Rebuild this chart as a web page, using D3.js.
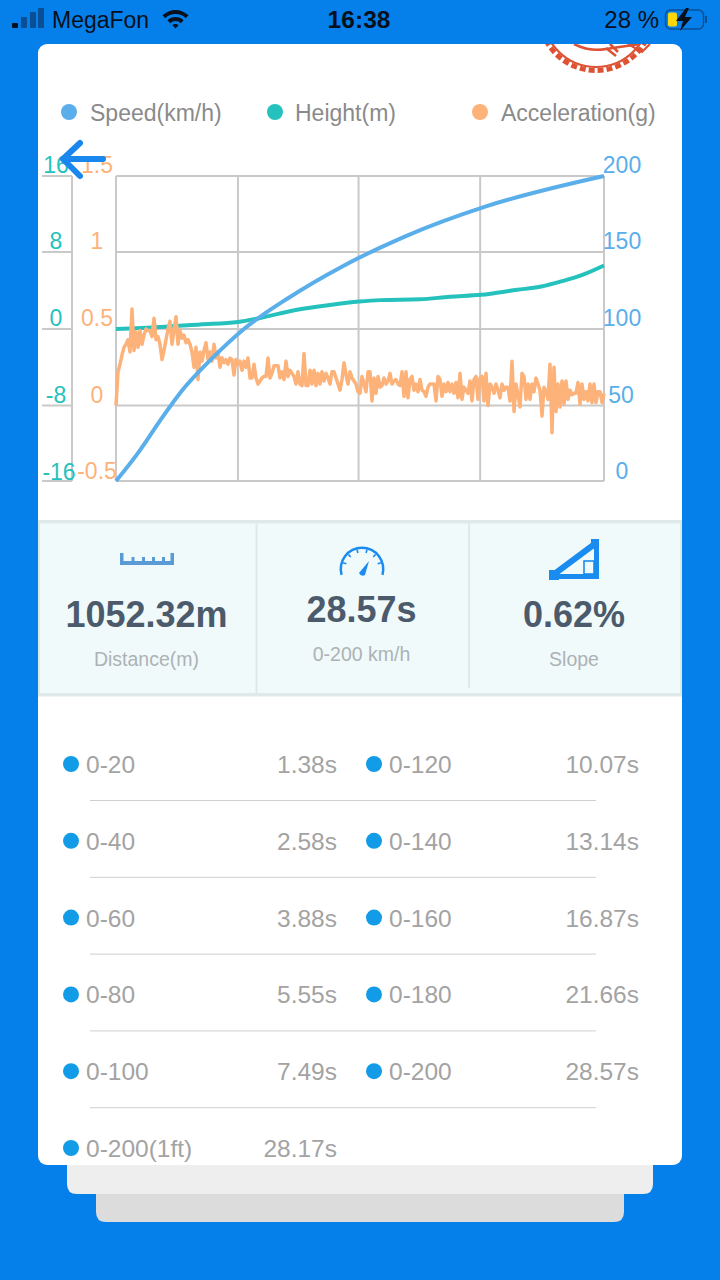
<!DOCTYPE html>
<html>
<head>
<meta charset="utf-8">
<title>Speed run</title>
<script src="https://d3js.org/d3.v7.min.js"></script>
<style>
html, body { margin: 0; padding: 0; background: #0580ea; }
svg { display: block; }
text { font-family: "Liberation Sans", Arial, sans-serif; }
</style>
</head>
<body>
<svg id="page" width="720" height="1280"></svg>
<script>
// values
var legendNames = ["Speed(km/h)", "Height(m)", "Acceleration(g)"];

var speedTimes = [0, 1.38, 2.58, 3.88, 5.55, 7.49, 10.07, 13.14, 16.87, 21.66, 28.57];
var speedValues = [0, 20, 40, 60, 80, 100, 120, 140, 160, 180, 200];

var heightTimes = [0, 2.58, 4.92, 7.14, 8.43, 10.6, 12.53, 14.23, 15.46, 17.8, 19.55, 21.37, 23.48, 24.82, 26.17, 27.34, 28.57];
var heightValues = [0, 0.2, 0.47, 0.73, 1.15, 2.0, 2.5, 2.85, 3.0, 3.08, 3.35, 3.55, 4.07, 4.39, 5.0, 5.65, 6.6];

// acceleration, one list per grid column, evenly spaced in time
var accA = [0, .22, .27, .33, .38, .40, .43, .35, .63, .36, .48, .38, .49, .40, .46, .50, .49, .49, .45, .57, .43, .45, .40, .30, .36, .43, .50, .55, .40, .49, .58, .40, .49, .44, .46, .41, .43, .40, .35, .25, .38, .17, .35, .29, .36, .41, .30, .35, .29, .40, .31, .35, .25, .31, .28, .30, .27, .31, .30, .20, .30, .27];
var accB = [.29, .23, .29, .25, .31, .18, .18, .27, .18, .14, .16, .18, .19, .19, .31, .18, .21, .26, .26, .26, .18, .22, .17, .29, .19, .23, .21, .19, .14, .22, .14, .13, .34, .13, .13, .23, .14, .23, .13, .21, .14, .22, .16, .21, .18, .14, .22, .22, .18, .14, .10, .17, .28, .20, .14, .22, .18, .16, .14, .09];
var accC = [.08, .19, .14, .09, .22, .22, .03, .18, .08, .19, .12, .13, .18, .14, .16, .21, .14, .16, .17, .14, .13, .22, .06, .22, .05, .17, .19, .10, .14, .09, .17, .10, .09, .06, .12, .14, .14, .14, .03, .19, .17, .06, .14, .09, .15, .09, .14, .08, .15, .05, .21, .04, .12, .10, .08, .16, .03, .17, .19, .04, .18];
var accD = [.19, .03, .21, 0, .14, .12, .08, .14, .10, .05, .14, .10, .12, .12, .03, .29, -.04, .14, .07, -.01, .21, .19, .04, .14, .04, .14, .09, .18, .14, .10, -.07, .12, .09, .04, .27, -.18, .25, -.04, .14, -.01, .16, .01, .16, .04, .10, .07, .08, .08, .15, .01, .14, .04, .09, .03, .14, .02, .14, .02, .09, .09, .02, .08];

var speedTicks = [0, 50, 100, 150, 200];
var heightTicks = [-16, -8, 0, 8, 16];
var accTicks = [-0.5, 0, 0.5, 1, 1.5];
var timeTicks = [0, 7.14, 14.2, 21.32, 28.57];

var statValues = ["1052.32m", "28.57s", "0.62%"];
var statNames = ["Distance(m)", "0-200 km/h", "Slope"];

var leftNames = ["0-20", "0-40", "0-60", "0-80", "0-100", "0-200(1ft)"];
var leftTimes = ["1.38s", "2.58s", "3.88s", "5.55s", "7.49s", "28.17s"];
var rightNames = ["0-120", "0-140", "0-160", "0-180", "0-200"];
var rightTimes = ["10.07s", "13.14s", "16.87s", "21.66s", "28.57s"];

var svg = d3.select("#page");
var blue = "#5aaeea", teal = "#25c2bd", orange = "#fdb27a", gridGrey = "#c9c9c9";

var drawFrame = function() {
    svg.append("rect").attr("width", 720).attr("height", 1280).attr("fill", "#0580ea");
    svg.append("path").attr("d", roundedBottom(96, 1180, 528, 42, 10)).attr("fill", "#dcdcdc");
    svg.append("path").attr("d", roundedBottom(67, 1150, 586, 44, 10)).attr("fill", "#eeeeee");
    svg.append("rect").attr("x", 38).attr("y", 44).attr("width", 644).attr("height", 1121)
      .attr("rx", 9).attr("fill", "#ffffff");
}

var roundedBottom = function(x, y, w, h, r) {
    return "M" + x + "," + y + "H" + (x + w) + "V" + (y + h - r)
      + "Q" + (x + w) + "," + (y + h) + " " + (x + w - r) + "," + (y + h)
      + "H" + (x + r) + "Q" + x + "," + (y + h) + " " + x + "," + (y + h - r) + "Z";
}

var drawStatusBar = function() {
    var bar = svg.append("g");
    [[12, 23, 6, 5, "#07101c"], [21, 17, 6, 11, "#0a4f96"], [30, 12, 6, 16, "#0a4f96"], [38, 8, 6, 20, "#0a4f96"]].forEach(function(b) {
        bar.append("rect").attr("x", b[0]).attr("y", b[1]).attr("width", b[2]).attr("height", b[3]).attr("rx", 1).attr("fill", b[4]);
    });
    bar.append("text").attr("x", 52).attr("y", 28).attr("font-size", 23).attr("fill", "#07101c").text("MegaFon");
    var wifiArc = d3.arc().startAngle(-0.78).endAngle(0.78);
    [[0, 4.5], [7.5, 11.5], [14.5, 18.5]].forEach(function(r) {
        bar.append("path").attr("transform", "translate(175.5,28.5)")
          .attr("d", wifiArc({innerRadius: r[0], outerRadius: r[1]})).attr("fill", "#07101c");
    });
    bar.append("text").attr("x", 359).attr("y", 28).attr("text-anchor", "middle").attr("font-size", 24.5)
      .attr("font-weight", "bold").attr("fill", "#07101c").attr("textLength", 63).text("16:38");
    bar.append("text").attr("x", 659).attr("y", 28).attr("text-anchor", "end").attr("font-size", 24).attr("fill", "#07101c").text("28 %");
    bar.append("rect").attr("x", 665.5).attr("y", 10).attr("width", 38).attr("height", 19).attr("rx", 5)
      .attr("fill", "none").attr("stroke", "#0a4f96").attr("stroke-width", 1.5);
    bar.append("rect").attr("x", 668).attr("y", 12.5).attr("width", 9).attr("height", 14).attr("rx", 2).attr("fill", "#ffd60a");
    bar.append("rect").attr("x", 705).attr("y", 16).attr("width", 2).attr("height", 7).attr("fill", "#0a4f96");
    bar.append("path").attr("d", "M686,8L676,21H683L680,31L692,17H685L689,8Z").attr("fill", "#07101c");
}

var drawStamp = function() {
    var red = "#de5133";
    svg.append("clipPath").attr("id", "stampClip").append("rect")
      .attr("x", 38).attr("y", 44).attr("width", 644).attr("height", 60);
    var stamp = svg.append("g").attr("clip-path", "url(#stampClip)");
    stamp.append("circle").attr("cx", 596).attr("cy", 14).attr("r", 56.5).attr("fill", "none")
      .attr("stroke", red).attr("stroke-width", 5).attr("stroke-dasharray", "6 3");
    stamp.append("circle").attr("cx", 596).attr("cy", 14).attr("r", 53).attr("fill", "none")
      .attr("stroke", red).attr("stroke-width", 2.2);
    stamp.append("path").attr("d", "M574,44Q590,52 606,49L640,44M606,48L616,56M610,44L618,52")
      .attr("fill", "none").attr("stroke", red).attr("stroke-width", 2.6);
    stamp.append("path").attr("d", "M628,44L642,52L650,44").attr("fill", "none").attr("stroke", red).attr("stroke-width", 2.2);
}

var drawLegend = function() {
    var dotX = [69, 275, 480], textX = [90, 295, 501], colours = [blue, teal, orange];
    legendNames.forEach(function(name, i) {
        svg.append("circle").attr("cx", dotX[i]).attr("cy", 112).attr("r", 8).attr("fill", colours[i]);
        svg.append("text").attr("x", textX[i]).attr("y", 121).attr("font-size", 23).attr("fill", "#8a8a8a").text(name);
    });
}

var drawChart = function() {
    var plotLeft = 116, plotRight = 604;
    var yRange = [481, 405.5, 329, 252, 176];
    var x = d3.scaleLinear().domain([0, 28.57]).range([plotLeft, plotRight]);
    var ySpeed = d3.scaleLinear().domain(speedTicks).range(yRange);
    var yHeight = d3.scaleLinear().domain(heightTicks).range(yRange);
    var yAcc = d3.scaleLinear().domain(accTicks).range(yRange);

    var styleAxis = function(axis, colour, labelX, labelDy) {
        axis.selectAll(".domain").attr("stroke", gridGrey).attr("stroke-width", 2);
        axis.selectAll(".tick line").attr("stroke", gridGrey).attr("stroke-width", 2);
        axis.selectAll("text").attr("fill", colour).attr("font-size", 23).attr("font-family", "Liberation Sans")
          .attr("text-anchor", "middle").attr("x", labelX).attr("dy", labelDy);
    }

    // vertical grid lines, no labels
    var gridX = svg.append("g").attr("transform", "translate(0,481)")
      .call(d3.axisBottom(x).tickValues(timeTicks).tickSize(-305).tickSizeOuter(0).tickFormat("").offset(0));
    gridX.selectAll(".domain").attr("stroke", gridGrey).attr("stroke-width", 2);
    gridX.selectAll(".tick line").attr("stroke", gridGrey).attr("stroke-width", 2);

    // right axis carries the horizontal grid and the speed labels
    var rightAxis = svg.append("g").attr("transform", "translate(604,0)")
      .call(d3.axisRight(ySpeed).tickValues(speedTicks).tickSize(-488).tickSizeOuter(0).offset(0));
    styleAxis(rightAxis, blue, 18, -3);
    rightAxis.selectAll(".tick").filter(function(d) { return d == 50 }).select("text").attr("x", 17);
    rightAxis.selectAll(".tick").filter(function(d) { return d == 0 }).select("text").attr("dy", -2);

    var heightAxis = svg.append("g").attr("transform", "translate(72,0)")
      .call(d3.axisLeft(yHeight).tickValues(heightTicks).tickSize(30).tickSizeOuter(0).offset(0)
        .tickFormat(function(d) { return d }));
    styleAxis(heightAxis, teal, -16, -3);
    heightAxis.selectAll(".tick").filter(function(d) { return d == -16 }).select("text").attr("x", -13).attr("dy", -1);

    var accAxis = svg.append("g").attr("transform", "translate(116,0)")
      .call(d3.axisLeft(yAcc).tickValues(accTicks).tickSize(0).offset(0).tickFormat(function(d) { return d }));
    styleAxis(accAxis, orange, -19, -3);
    accAxis.select(".domain").remove();
    accAxis.selectAll(".tick line").remove();
    accAxis.selectAll(".tick").filter(function(d) { return d == -0.5 }).select("text").attr("dy", -2);

    var heightPoints = heightTimes.map(function(t, i) { return [t, heightValues[i]] });
    var speedPoints = speedTimes.map(function(t, i) { return [t, speedValues[i]] });
    var accValues = accA.concat(accB, accC, accD);
    var accStep = 28.57 / (accValues.length - 1);

    svg.append("path").datum(heightPoints).attr("fill", "none").attr("stroke", teal).attr("stroke-width", 4)
      .attr("d", d3.line().x(function(d) { return x(d[0]) }).y(function(d) { return yHeight(d[1]) }).curve(d3.curveMonotoneX));
    svg.append("path").datum(accValues).attr("fill", "none").attr("stroke", orange).attr("stroke-width", 3.5)
      .attr("stroke-linejoin", "round")
      .attr("d", d3.line().x(function(d, i) { return x(i * accStep) }).y(function(d) { return yAcc(d) }));
    svg.append("path").datum(speedPoints).attr("fill", "none").attr("stroke", blue).attr("stroke-width", 4)
      .attr("d", d3.line().x(function(d) { return x(d[0]) }).y(function(d) { return ySpeed(d[1]) }).curve(d3.curveMonotoneX));

    // back arrow sits over the top labels
    svg.append("path").attr("d", "M103,159H63M80,143L63,159L80,176").attr("fill", "none")
      .attr("stroke", "#1a87ee").attr("stroke-width", 6).attr("stroke-linecap", "round").attr("stroke-linejoin", "round");
}

var drawStats = function() {
    var line = "#dfe9ea";
    svg.append("rect").attr("x", 38).attr("y", 520).attr("width", 644).attr("height", 176).attr("fill", "#f0fafb");
    svg.append("rect").attr("x", 38).attr("y", 520).attr("width", 644).attr("height", 3.5).attr("fill", line);
    svg.append("rect").attr("x", 38).attr("y", 693).attr("width", 644).attr("height", 3.5).attr("fill", line);
    svg.append("rect").attr("x", 38).attr("y", 520).attr("width", 2).attr("height", 176).attr("fill", line);
    svg.append("rect").attr("x", 680).attr("y", 520).attr("width", 2).attr("height", 176).attr("fill", line);
    svg.append("rect").attr("x", 255.5).attr("y", 523).attr("width", 2).attr("height", 170).attr("fill", line);
    svg.append("rect").attr("x", 468).attr("y", 523).attr("width", 2).attr("height", 165).attr("fill", line);

    var centre = [146.5, 361.5, 574], valueY = [627, 622, 627], nameY = [666, 661, 666];
    statValues.forEach(function(v, i) {
        svg.append("text").attr("x", centre[i]).attr("y", valueY[i]).attr("text-anchor", "middle")
          .attr("font-size", 36).attr("font-weight", "bold").attr("fill", "#4c5b6b").text(v);
        svg.append("text").attr("x", centre[i]).attr("y", nameY[i]).attr("text-anchor", "middle")
          .attr("font-size", 19.5).attr("fill", "#adb2b4").text(statNames[i]);
    });

    // ruler
    svg.append("path").attr("d", "M120,553H123.5V561H170.5V553H174V565H120Z M131.5,557H134.5V562H131.5Z M142,557H145V562H142Z M152,557H155V562H152Z M162,557H165V562H162Z")
      .attr("fill", "#5b9bd5");

    // gauge
    var gauge = svg.append("g").attr("transform", "translate(362,569)").attr("fill", "#1a8cf0");
    gauge.append("path").attr("d", d3.arc().innerRadius(20).outerRadius(22.5).startAngle(-1.85).endAngle(1.85)());
    d3.range(-1.25, 1.26, 0.5).forEach(function(a) {
        gauge.append("rect").attr("x", -0.8).attr("y", -20).attr("width", 1.6).attr("height", 3.5)
          .attr("transform", "rotate(" + a * 180 / Math.PI + ")");
    });
    gauge.append("path").attr("d", "M-3,4L7,-8L3,6Q-1,8 -3,4Z");

    // slope
    var slope = svg.append("g").attr("fill", "none").attr("stroke", "#1a8cf0");
    slope.append("path").attr("d", "M553,575L596,543").attr("stroke-width", 6);
    slope.append("path").attr("d", "M549,570H559V580H549Z M591,539H599V549H591Z").attr("fill", "#1a8cf0").attr("stroke", "none");
    slope.append("path").attr("d", "M555,576.5H596.5V544").attr("stroke-width", 5);
    slope.append("rect").attr("x", 584).attr("y", 561).attr("width", 10).attr("height", 13).attr("stroke-width", 1.6);
}

var drawTimes = function() {
    var rowY = d3.scalePoint().domain(d3.range(6)).range([773, 1157]);
    var dotColour = "#129be6", textColour = "#a3a3a3";

    var addRow = function(names, times, dotX, nameX, timeX) {
        names.forEach(function(name, i) {
            svg.append("circle").attr("cx", dotX).attr("cy", rowY(i) - 9).attr("r", 8).attr("fill", dotColour);
            svg.append("text").attr("x", nameX).attr("y", rowY(i)).attr("font-size", 24.5).attr("fill", textColour).text(name);
            svg.append("text").attr("x", timeX).attr("y", rowY(i)).attr("text-anchor", "end")
              .attr("font-size", 24.5).attr("fill", textColour).text(times[i]);
        });
    }
    addRow(leftNames, leftTimes, 71, 86, 337);
    addRow(rightNames, rightTimes, 374, 389, 639);

    d3.range(5).forEach(function(i) {
        svg.append("rect").attr("x", 90).attr("y", rowY(i) + 27).attr("width", 506).attr("height", 1).attr("fill", "#cfcfcf");
    });
}

drawFrame();
drawStatusBar();
drawStamp();
drawLegend();
drawChart();
drawStats();
drawTimes();
</script>
</body>
</html>
